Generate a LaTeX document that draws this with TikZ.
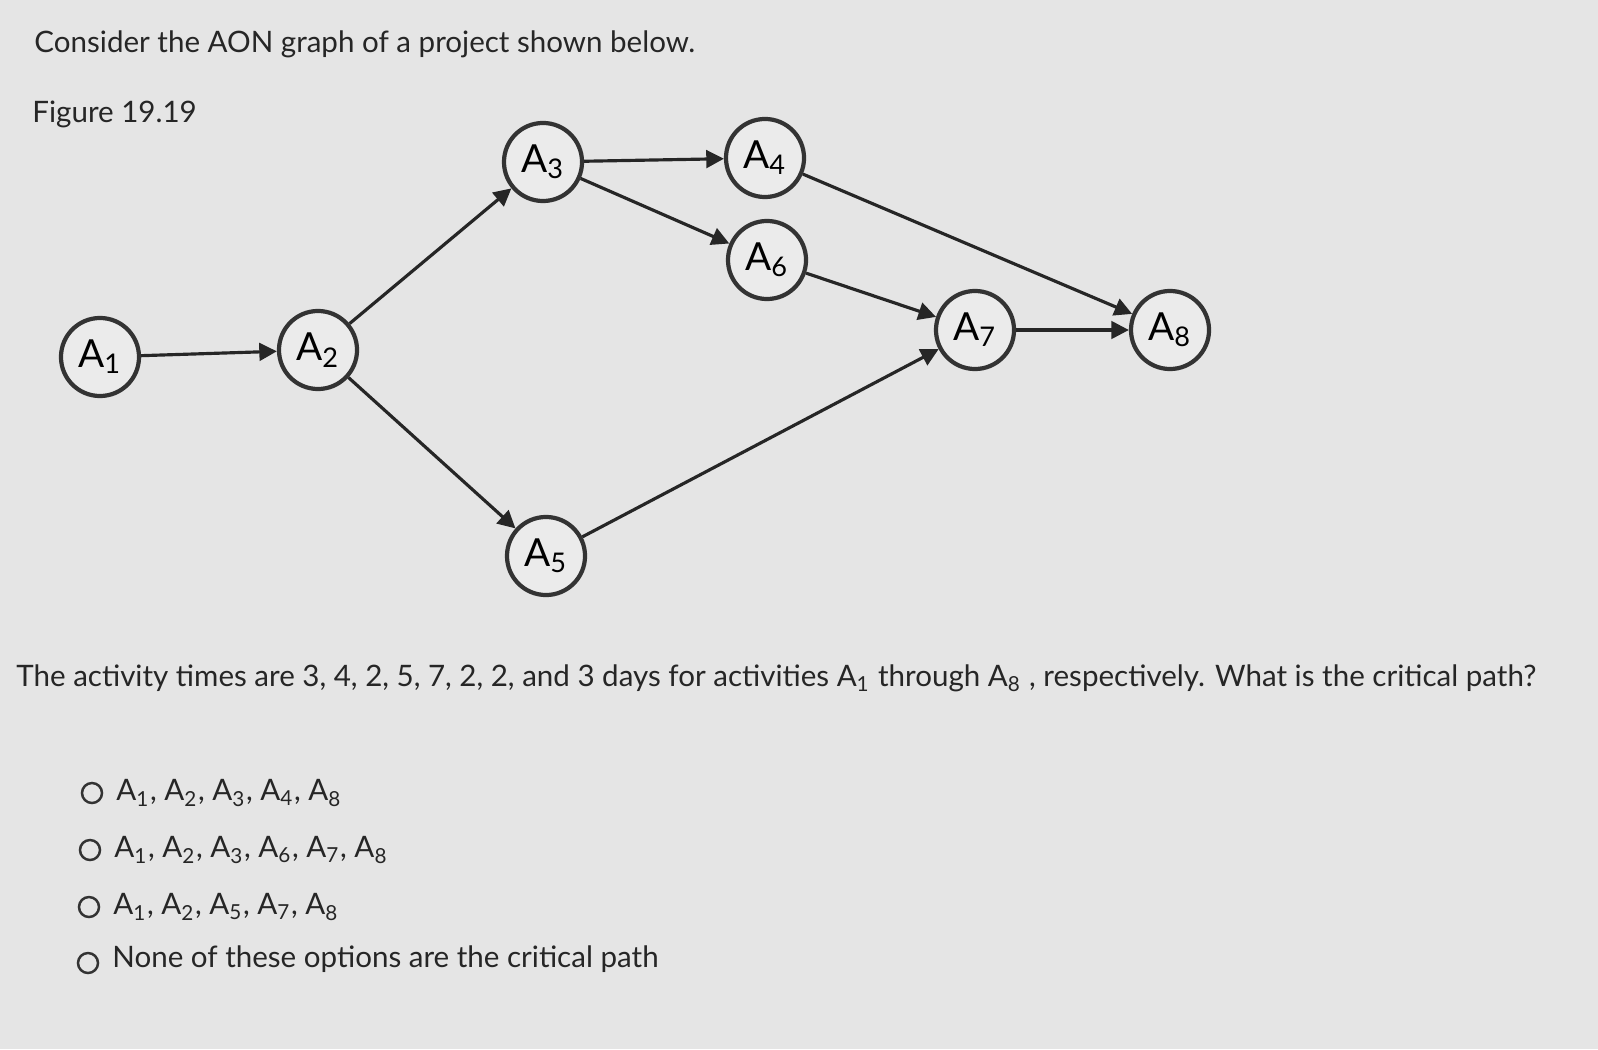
\documentclass[tikz,border=0pt]{standalone}
\usepackage{fontspec}
\setmainfont{Lato}
\usetikzlibrary{arrows.meta}
\begin{document}
\begin{tikzpicture}[x=0.01cm,y=-0.01cm,
  act/.style={circle,draw=black!80,line width=1.2pt,fill=white!92!black,minimum size=0.78cm,inner sep=0pt,font=\fontsize{11}{12}\selectfont},
  arr/.style={-{Triangle[length=5pt,width=5pt]},black!85,line width=0.9pt},
  txt/.style={anchor=west,font=\fontsize{8.4}{10}\selectfont,text=black!85},
  opt/.style={circle,draw=black!80,line width=0.7pt,minimum size=0.2cm,inner sep=0pt}]
\fill[black!10] (0,0) rectangle (1598,1049);
\useasboundingbox (0,0) rectangle (1598,1049);
\node[txt] (t1) at (22,44) {Consider the AON graph of a project shown below.};
\node[txt] (t2) at (20,114) {Figure 19.19};
\node[act] (a1) at (100,357) {A\textsubscript{1}};
\node[act] (a2) at (318,350) {A\textsubscript{2}};
\node[act] (a3) at (543,162) {A\textsubscript{3}};
\node[act] (a4) at (765,158) {A\textsubscript{4}};
\node[act] (a6) at (767,260) {A\textsubscript{6}};
\node[act] (a7) at (975,330) {A\textsubscript{7}};
\node[act] (a8) at (1170,330) {A\textsubscript{8}};
\node[act] (a5) at (546,556) {A\textsubscript{5}};
\draw[arr] (a1) -- (a2);
\draw[arr] (a2) -- (a3);
\draw[arr] (a2) -- (a5);
\draw[arr] (a3) -- (a4);
\draw[arr] (a3) -- (a6);
\draw[arr] (a4) -- (a8);
\draw[arr] (a6) -- (a7);
\draw[arr] (a5) -- (a7);
\draw[arr] (a7) -- (a8);
\node[txt] (q) at (4,678) {The activity times are 3, 4, 2, 5, 7, 2, 2, and 3 days for activities A\textsubscript{1} through A\textsubscript{8} , respectively. What is the critical path?};
\node[opt] (o1) at (92,793) {};
\node[txt] (l1) at (104,793) {A\textsubscript{1}, A\textsubscript{2}, A\textsubscript{3}, A\textsubscript{4}, A\textsubscript{8}};
\node[opt] (o2) at (90,850) {};
\node[txt] (l2) at (102,850) {A\textsubscript{1}, A\textsubscript{2}, A\textsubscript{3}, A\textsubscript{6}, A\textsubscript{7}, A\textsubscript{8}};
\node[opt] (o3) at (89,907) {};
\node[txt] (l3) at (101,907) {A\textsubscript{1}, A\textsubscript{2}, A\textsubscript{5}, A\textsubscript{7}, A\textsubscript{8}};
\node[opt] (o4) at (88,963) {};
\node[txt] (l4) at (100,959) {None of these options are the critical path};
\end{tikzpicture}
\end{document}
